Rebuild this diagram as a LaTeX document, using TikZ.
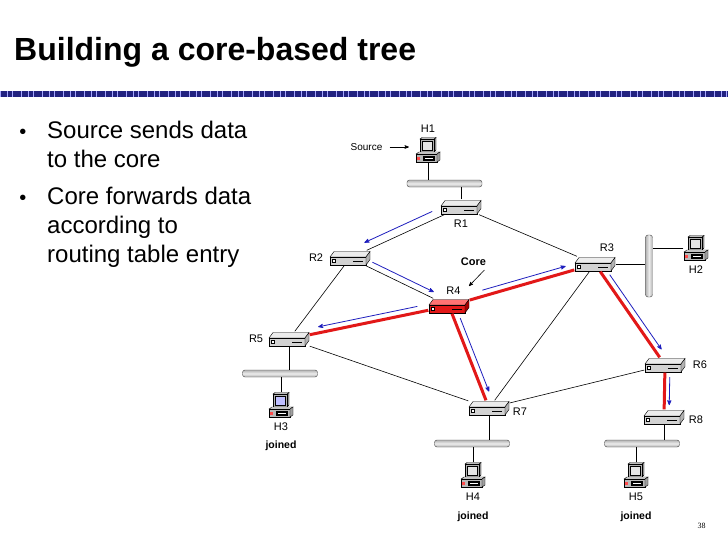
\documentclass[tikz,border=0pt]{standalone}
\usepackage{fontspec}
\setmainfont{Liberation Sans}
\newfontfamily\slidenum{Liberation Serif}
\usetikzlibrary{arrows,calc,positioning}

\definecolor{navy}{RGB}{34,34,128}
\definecolor{treered}{RGB}{226,24,24}
\definecolor{flowblue}{RGB}{30,30,190}

% router box: top, front and side colours
\newcommand{\routershape}[3]{%
  \begin{scope}[shift={(path picture bounding box.center)},x=1pt,y=1pt,line width=0.4pt]
    \filldraw[fill=#1] (-20,1) -- (-16,6.5) -- (20,6.5) -- (16,1) -- cycle;
    \filldraw[fill=#2] (-20,-7) rectangle (16,1);
    \filldraw[fill=#3] (16,1) -- (20,6.5) -- (20,-1.5) -- (16,-7) -- cycle;
    \filldraw[fill=white] (-18,-4.5) rectangle (-14.5,-1.5);
    \fill[black] (3,-4.2) rectangle (13,-2.6);
  \end{scope}}

% desktop pc: screen colour
\newcommand{\hostshape}[1]{%
  \begin{scope}[shift={(path picture bounding box.center)},x=1pt,y=1pt,line width=0.4pt]
    \filldraw[fill=gray!30] (-8,11) -- (-6,12.5) -- (8,12.5) -- (6,11) -- cycle;
    \filldraw[fill=gray!75] (6,11) -- (8,12.5) -- (8,0) -- (6,-2) -- cycle;
    \filldraw[fill=gray!60] (-8,-2) rectangle (6,11);
    \filldraw[fill=#1] (-6,0) rectangle (4,9);
    \filldraw[fill=gray!25] (-12,-4) -- (-9,-2) -- (12,-2) -- (9,-4) -- cycle;
    \filldraw[fill=gray!55] (-12,-12) rectangle (9,-4);
    \filldraw[fill=gray!75] (9,-4) -- (12,-2) -- (12,-10) -- (9,-12) -- cycle;
    \fill[black] (-5,-10.5) rectangle (7,-5.5);
    \fill[white] (-3,-9) rectangle (5,-8);
    \fill[red!70!white] (-11,-10) rectangle (-8,-7);
  \end{scope}}

\begin{document}
\begin{tikzpicture}[x=1pt,y=-1pt,>=stealth',
    router/.style={rectangle,minimum width=41pt,minimum height=15pt,inner sep=0pt,
      path picture={\routershape{gray!15}{gray!35}{gray!60}}},
    corerouter/.style={router,
      path picture={\routershape{red!55!white}{treered}{red!65!black}}},
    host/.style={rectangle,minimum width=25pt,minimum height=25pt,inner sep=0pt,
      path picture={\hostshape{#1}}},
    host/.default={gray!20},
    lan/.style={rectangle,rounded corners=2.5pt,draw=gray!55!black,line width=0.4pt,
      top color=gray!60,bottom color=gray!60,middle color=gray!15,
      minimum width=75pt,minimum height=7pt,inner sep=0pt},
    lanv/.style={lan,left color=gray!60,right color=gray!60,middle color=gray!15,
      minimum width=7pt,minimum height=62pt},
    lbl/.style={inner sep=1pt,font=\fontsize{11}{13}\selectfont},
    small/.style={inner sep=1pt,font=\fontsize{10}{12}\selectfont},
    joined/.style={inner sep=1pt,font=\bfseries\fontsize{10.5}{12}\selectfont},
    item/.style={anchor=base west,inner sep=0pt,font=\fontsize{24}{29}\selectfont},
    link/.style={line width=0.6pt},
    tree/.style={line width=3pt,treered},
    flow/.style={->,line width=0.8pt,flowblue},
    pointer/.style={->,line width=0.6pt}]

    \useasboundingbox (0,0) rectangle (728,546);
    \fill[white] (0,0) rectangle (728,546);

    % title and bullets
    \node[anchor=base west,inner sep=0pt,font=\bfseries\fontsize{32}{36}\selectfont]
      (title) at (14,60) {Building a core-based tree};
    \fill[navy] (0,91) rectangle (728,97);
    \draw[blue!35!white,line width=6pt,dash pattern=on 0.4pt off 6.6pt on 0.4pt off 4.6pt on 0.4pt off 8.6pt]
      (0,94) -- (728,94);

    \foreach \txt/\y [count=\i] in {Source sends data/138, to the core/167,
        Core forwards data/204, according to/233, routing table entry/262}
      \node[item] (t\i) at (47,\y) {\txt};
    \foreach \y [count=\i] in {138,204}
      \node[item,anchor=base,font=\fontsize{20}{24}\selectfont] (b\i) at (23,\y) {\textbullet};

    % routers
    \node[router]     (R1) at (461,207) {};
    \node[router]     (R2) at (350,258) {};
    \node[router]     (R3) at (595,264) {};
    \node[corerouter] (R4) at (449,306) {};
    \node[router]     (R5) at (289,339) {};
    \node[router]     (R6) at (665,365) {};
    \node[router]     (R7) at (489,408) {};
    \node[router]     (R8) at (664,417) {};

    % lans and hosts
    \node[lan]  (lan1) at (444.5,183.5) {};
    \node[lanv] (lan2) at (649,266) {};
    \node[lan]  (lan5) at (280,373.5) {};
    \node[lan]  (lan7) at (472,443.5) {};
    \node[lan]  (lan8) at (642,443.5) {};

    \node[host]          (H1) at (428,150) {};
    \node[host]          (H2) at (696,248) {};
    \node[host=blue!25]  (H3) at (281,405) {};
    \node[host]          (H4) at (473,475) {};
    \node[host]          (H5) at (636,475) {};

    % labels
    \node[lbl] (lR1) [below=4pt of R1] {R1};
    \node[lbl] (lR2) [left=5pt of R2] {R2};
    \node[lbl] (lR3) at (607,248) {R3};
    \node[lbl] (lR4) at (453.5,291) {R4};
    \node[lbl] (lR5) [left=4pt of R5] {R5};
    \node[lbl] (lR6) [right=6pt of R6] {R6};
    \node[lbl] (lR7) at (520,411.5) {R7};
    \node[lbl] (lR8) at (696,419.5) {R8};
    \node[lbl] (lH1) [above=4pt of H1] {H1};
    \node[lbl] (lH2) [below=4pt of H2] {H2};
    \node[lbl] (lH3) [below=4pt of H3] {H3};
    \node[lbl] (lH4) [below=4pt of H4] {H4};
    \node[lbl] (lH5) [below=4pt of H5] {H5};
    \node[joined] (j3) [below=8pt of lH3] {joined};
    \node[joined] (j4) [below=9pt of lH4] {joined};
    \node[joined] (j5) [below=9pt of lH5] {joined};

    \node[small]  (src)  at (366.5,147) {Source};
    \node[joined,font=\bfseries\fontsize{11}{13}\selectfont] (core) at (473.5,262) {Core};
    \coordinate (coretip) at (469,286);
    \node[inner sep=0pt,font=\slidenum\fontsize{8}{9}\selectfont] (pg) at (701.5,525.5) {38};

    % lan attachments
    \draw[link] (H1.south) -- (H1.south |- lan1.north);
    \draw[link] (R1.north) -- (R1.north |- lan1.south);
    \draw[link] (R3.east) -- (R3.east -| lan2.west);
    \draw[link] (H2.west) -- (H2.west -| lan2.east);
    \draw[link] (R5.south) -- (R5.south |- lan5.north);
    \draw[link] (H3.north) -- (H3.north |- lan5.south);
    \draw[link] (R7.south) -- (R7.south |- lan7.north);
    \draw[link] (H4.north) -- (H4.north |- lan7.south);
    \draw[link] (R8.south) -- (R8.south |- lan8.north);
    \draw[link] (H5.north) -- (H5.north |- lan8.south);

    % router links and the tree
    \foreach \a/\b in {R1/R2,R1/R3,R2/R4,R2/R5,R5/R7,R7/R3,R7/R6}
      \draw[link] (\a) -- (\b);
    \foreach \a/\b in {R4/R3,R4/R5,R4/R7,R3/R6,R6/R8}
      \draw[tree] (\a) -- (\b);

    % data flow
    \foreach \a/\b/\s/\e/\d/\r in {R1/R2/0.23/0.84/8pt/-90, R2/R4/0.2/0.82/6pt/90,
        R4/R5/0.19/0.81/6pt/-90, R4/R3/0.24/0.81/6pt/90, R4/R7/0.14/0.86/6pt/90,
        R3/R6/0.14/0.88/6pt/90, R6/R8/0.23/0.77/5pt/90}
      \draw[flow] ($(\a)!\s!(\b)!\d!\r:(\b)$) -- ($(\a)!\e!(\b)!\d!\r:(\b)$);

    \draw[pointer,shorten <=6pt,shorten >=6.5pt] (src) -- (src -| H1.west);
    \draw[pointer,shorten <=4pt] (core.south east) -- (coretip);

\end{tikzpicture}
\end{document}
